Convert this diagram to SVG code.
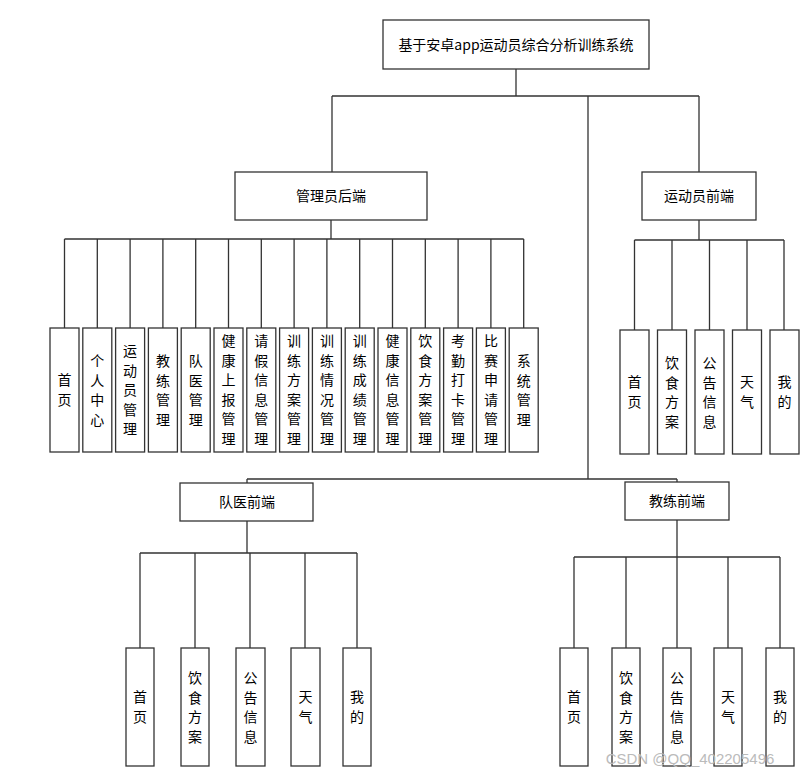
<svg xmlns="http://www.w3.org/2000/svg" width="802" height="776" viewBox="0 0 802 776">
<style>
g rect{fill:#fff;stroke:#333;stroke-width:1.3}
text{font-family:"Noto Sans CJK SC","Noto Sans",sans-serif;font-size:14px;fill:#000;text-anchor:middle}
.c path{fill:none;stroke:#333;stroke-width:1.3}
</style>
<rect width="802" height="776" fill="#fff"/>
<g class="c" id="connectors">
<path d="M516 69V96M332 96H699M332 96V172M699 96V172M588 96V479M247 479H677M247 479V483M677 479V482"/>
<path d="M331 220V239M64.5 239H523.7M64.5 239V328M97.3 239V328M130.1 239V328M162.9 239V328M195.7 239V328M228.5 239V328M261.3 239V328M294.1 239V328M326.9 239V328M359.7 239V328M392.5 239V328M425.3 239V328M458.1 239V328M490.9 239V328M523.7 239V328"/>
<path d="M699 220V240M634.5 240H784M634.5 240V330M672 240V330M709.5 240V330M747 240V330M784 240V330"/>
<path d="M247 521V553M140 553H357M140 553V648M195 553V648M250 553V648M305 553V648M357 553V648"/>
<path d="M677 520V557M574 557H780M574 557V648M626 557V648M677 557V648M728 557V648M780 557V648"/>
</g>
<g id="root"><rect x="383" y="20" width="266" height="49"/><text x="516" y="50">基于安卓app运动员综合分析训练系统</text></g>
<g id="admin"><rect x="235" y="172" width="192" height="48"/><text x="331" y="201">管理员后端</text></g>
<g id="athlete"><rect x="642" y="172" width="114" height="48"/><text x="699" y="201">运动员前端</text></g>
<g id="doctor"><rect x="180" y="483" width="133" height="38"/><text x="247" y="507">队医前端</text></g>
<g id="coach"><rect x="625" y="482" width="104" height="38"/><text x="677" y="506">教练前端</text></g>

<g id="a1"><rect x="50" y="328" width="29" height="124"/><text x="64.5" y="385"><tspan x="64.5">首</tspan><tspan x="64.5" dy="19.5">页</tspan></text></g>
<g id="a2"><rect x="82.8" y="328" width="29" height="124"/><text x="97.3" y="366"><tspan x="97.3">个</tspan><tspan x="97.3" dy="19.5">人</tspan><tspan x="97.3" dy="19.5">中</tspan><tspan x="97.3" dy="19.5">心</tspan></text></g>
<g id="a3"><rect x="115.6" y="328" width="29" height="124"/><text x="130.1" y="356"><tspan x="130.1">运</tspan><tspan x="130.1" dy="19.5">动</tspan><tspan x="130.1" dy="19.5">员</tspan><tspan x="130.1" dy="19.5">管</tspan><tspan x="130.1" dy="19.5">理</tspan></text></g>
<g id="a4"><rect x="148.4" y="328" width="29" height="124"/><text x="162.9" y="366"><tspan x="162.9">教</tspan><tspan x="162.9" dy="19.5">练</tspan><tspan x="162.9" dy="19.5">管</tspan><tspan x="162.9" dy="19.5">理</tspan></text></g>
<g id="a5"><rect x="181.2" y="328" width="29" height="124"/><text x="195.7" y="366"><tspan x="195.7">队</tspan><tspan x="195.7" dy="19.5">医</tspan><tspan x="195.7" dy="19.5">管</tspan><tspan x="195.7" dy="19.5">理</tspan></text></g>
<g id="a6"><rect x="214" y="328" width="29" height="124"/><text x="228.5" y="346"><tspan x="228.5">健</tspan><tspan x="228.5" dy="19.5">康</tspan><tspan x="228.5" dy="19.5">上</tspan><tspan x="228.5" dy="19.5">报</tspan><tspan x="228.5" dy="19.5">管</tspan><tspan x="228.5" dy="19.5">理</tspan></text></g>
<g id="a7"><rect x="246.8" y="328" width="29" height="124"/><text x="261.3" y="346"><tspan x="261.3">请</tspan><tspan x="261.3" dy="19.5">假</tspan><tspan x="261.3" dy="19.5">信</tspan><tspan x="261.3" dy="19.5">息</tspan><tspan x="261.3" dy="19.5">管</tspan><tspan x="261.3" dy="19.5">理</tspan></text></g>
<g id="a8"><rect x="279.6" y="328" width="29" height="124"/><text x="294.1" y="346"><tspan x="294.1">训</tspan><tspan x="294.1" dy="19.5">练</tspan><tspan x="294.1" dy="19.5">方</tspan><tspan x="294.1" dy="19.5">案</tspan><tspan x="294.1" dy="19.5">管</tspan><tspan x="294.1" dy="19.5">理</tspan></text></g>
<g id="a9"><rect x="312.4" y="328" width="29" height="124"/><text x="326.9" y="346"><tspan x="326.9">训</tspan><tspan x="326.9" dy="19.5">练</tspan><tspan x="326.9" dy="19.5">情</tspan><tspan x="326.9" dy="19.5">况</tspan><tspan x="326.9" dy="19.5">管</tspan><tspan x="326.9" dy="19.5">理</tspan></text></g>
<g id="a10"><rect x="345.2" y="328" width="29" height="124"/><text x="359.7" y="346"><tspan x="359.7">训</tspan><tspan x="359.7" dy="19.5">练</tspan><tspan x="359.7" dy="19.5">成</tspan><tspan x="359.7" dy="19.5">绩</tspan><tspan x="359.7" dy="19.5">管</tspan><tspan x="359.7" dy="19.5">理</tspan></text></g>
<g id="a11"><rect x="378" y="328" width="29" height="124"/><text x="392.5" y="346"><tspan x="392.5">健</tspan><tspan x="392.5" dy="19.5">康</tspan><tspan x="392.5" dy="19.5">信</tspan><tspan x="392.5" dy="19.5">息</tspan><tspan x="392.5" dy="19.5">管</tspan><tspan x="392.5" dy="19.5">理</tspan></text></g>
<g id="a12"><rect x="410.8" y="328" width="29" height="124"/><text x="425.3" y="346"><tspan x="425.3">饮</tspan><tspan x="425.3" dy="19.5">食</tspan><tspan x="425.3" dy="19.5">方</tspan><tspan x="425.3" dy="19.5">案</tspan><tspan x="425.3" dy="19.5">管</tspan><tspan x="425.3" dy="19.5">理</tspan></text></g>
<g id="a13"><rect x="443.6" y="328" width="29" height="124"/><text x="458.1" y="346"><tspan x="458.1">考</tspan><tspan x="458.1" dy="19.5">勤</tspan><tspan x="458.1" dy="19.5">打</tspan><tspan x="458.1" dy="19.5">卡</tspan><tspan x="458.1" dy="19.5">管</tspan><tspan x="458.1" dy="19.5">理</tspan></text></g>
<g id="a14"><rect x="476.4" y="328" width="29" height="124"/><text x="490.9" y="346"><tspan x="490.9">比</tspan><tspan x="490.9" dy="19.5">赛</tspan><tspan x="490.9" dy="19.5">申</tspan><tspan x="490.9" dy="19.5">请</tspan><tspan x="490.9" dy="19.5">管</tspan><tspan x="490.9" dy="19.5">理</tspan></text></g>
<g id="a15"><rect x="509.2" y="328" width="29" height="124"/><text x="523.7" y="366"><tspan x="523.7">系</tspan><tspan x="523.7" dy="19.5">统</tspan><tspan x="523.7" dy="19.5">管</tspan><tspan x="523.7" dy="19.5">理</tspan></text></g>

<g id="b1"><rect x="620" y="330" width="29" height="124"/><text x="634.5" y="387"><tspan x="634.5">首</tspan><tspan x="634.5" dy="19.5">页</tspan></text></g>
<g id="b2"><rect x="657.5" y="330" width="29" height="124"/><text x="672" y="368"><tspan x="672">饮</tspan><tspan x="672" dy="19.5">食</tspan><tspan x="672" dy="19.5">方</tspan><tspan x="672" dy="19.5">案</tspan></text></g>
<g id="b3"><rect x="695" y="330" width="29" height="124"/><text x="709.5" y="368"><tspan x="709.5">公</tspan><tspan x="709.5" dy="19.5">告</tspan><tspan x="709.5" dy="19.5">信</tspan><tspan x="709.5" dy="19.5">息</tspan></text></g>
<g id="b4"><rect x="732.5" y="330" width="29" height="124"/><text x="747" y="387"><tspan x="747">天</tspan><tspan x="747" dy="19.5">气</tspan></text></g>
<g id="b5"><rect x="770" y="330" width="29" height="124"/><text x="784.5" y="387"><tspan x="784.5">我</tspan><tspan x="784.5" dy="19.5">的</tspan></text></g>

<g id="d1"><rect x="126" y="648" width="28" height="118"/><text x="140" y="702"><tspan x="140">首</tspan><tspan x="140" dy="19.5">页</tspan></text></g>
<g id="d2"><rect x="181" y="648" width="28" height="118"/><text x="195" y="683"><tspan x="195">饮</tspan><tspan x="195" dy="19.5">食</tspan><tspan x="195" dy="19.5">方</tspan><tspan x="195" dy="19.5">案</tspan></text></g>
<g id="d3"><rect x="236" y="648" width="29" height="118"/><text x="250.5" y="683"><tspan x="250.5">公</tspan><tspan x="250.5" dy="19.5">告</tspan><tspan x="250.5" dy="19.5">信</tspan><tspan x="250.5" dy="19.5">息</tspan></text></g>
<g id="d4"><rect x="291" y="648" width="29" height="118"/><text x="305.5" y="702"><tspan x="305.5">天</tspan><tspan x="305.5" dy="19.5">气</tspan></text></g>
<g id="d5"><rect x="343" y="648" width="28" height="118"/><text x="357" y="702"><tspan x="357">我</tspan><tspan x="357" dy="19.5">的</tspan></text></g>

<g id="e1"><rect x="560" y="648" width="28" height="118"/><text x="574" y="702"><tspan x="574">首</tspan><tspan x="574" dy="19.5">页</tspan></text></g>
<g id="e2"><rect x="612" y="648" width="28" height="118"/><text x="626" y="683"><tspan x="626">饮</tspan><tspan x="626" dy="19.5">食</tspan><tspan x="626" dy="19.5">方</tspan><tspan x="626" dy="19.5">案</tspan></text></g>
<g id="e3"><rect x="663" y="648" width="28" height="118"/><text x="677" y="683"><tspan x="677">公</tspan><tspan x="677" dy="19.5">告</tspan><tspan x="677" dy="19.5">信</tspan><tspan x="677" dy="19.5">息</tspan></text></g>
<g id="e4"><rect x="714" y="648" width="28" height="118"/><text x="728" y="702"><tspan x="728">天</tspan><tspan x="728" dy="19.5">气</tspan></text></g>
<g id="e5"><rect x="766" y="648" width="28" height="118"/><text x="780" y="702"><tspan x="780">我</tspan><tspan x="780" dy="19.5">的</tspan></text></g>

<text x="690" y="764" style="font-family:'Liberation Sans',sans-serif;font-size:15px;fill:#bbb">CSDN @QQ_402205496</text>
</svg>
